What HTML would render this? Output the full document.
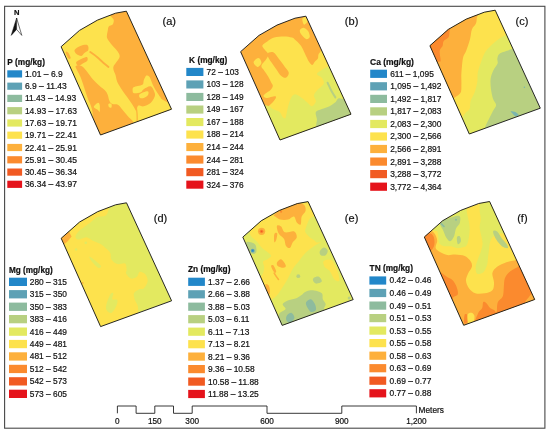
<!DOCTYPE html>
<html lang="en"><head><meta charset="utf-8"><title>Soil nutrient maps</title>
<style>html,body{margin:0;padding:0;background:#fff}svg{display:block}text{font-family:"Liberation Sans",Arial,sans-serif;fill:#111;stroke:#111;stroke-width:0.2px}</style></head><body>
<svg width="550" height="434" viewBox="0 0 550 434">
<rect width="550" height="434" fill="#fff"/>
<defs><clipPath id="cp"><polygon points="61.1,46.7 79.5,30.4 97.5,20.1 115.5,13.2 126.4,11.2 171.5,109.2 100.5,135.0"/></clipPath></defs>
<g transform="translate(0.0,0.0)">
<g clip-path="url(#cp)">
<rect x="55" y="5" width="125" height="135" fill="#FDE24D"/>
<path d="M110.8 13.0C108.1 15.4 113.4 17.8 113.7 19.7C114.0 21.6 113.5 23.5 112.7 24.6C111.9 25.7 109.6 25.5 108.8 26.5C108.0 27.5 108.1 28.6 107.8 30.4C107.5 32.2 106.6 35.3 106.9 37.3C107.2 39.3 108.5 40.4 109.8 42.2C111.1 44.0 113.2 46.3 114.7 48.1C116.2 49.9 117.8 51.4 118.6 52.9C119.4 54.4 119.9 55.4 119.6 56.9C119.3 58.4 117.6 60.2 116.6 61.8C115.6 63.4 114.0 65.0 113.5 66.5C113.0 68.0 113.4 69.2 113.7 70.6C114.0 72.0 114.9 73.1 115.5 75.0C116.1 76.9 116.2 79.5 117.3 82.0C118.4 84.5 120.6 87.7 122.2 90.2C123.8 92.7 125.5 94.8 127.1 97.1C128.7 99.4 130.5 101.6 132.0 103.9C133.5 106.2 134.9 108.5 135.9 110.8C136.9 113.1 137.6 115.4 137.8 117.6C138.1 119.8 135.4 122.9 137.4 124.0C139.4 125.1 142.9 126.0 150.0 124.0C157.1 122.0 175.0 122.7 180.0 112.0C185.0 101.3 188.3 77.8 180.0 60.0C171.7 42.2 141.5 12.8 130.0 5.0C118.5 -2.8 113.5 10.6 110.8 13.0Z" fill="#FDB03C"/>
<path d="M75.5 66.5C75.8 65.7 77.8 65.2 79.0 65.3C80.2 65.4 81.6 65.9 83.0 67.0C84.4 68.1 85.7 70.0 87.3 72.0C88.9 74.0 90.9 77.0 92.8 79.2C94.7 81.4 96.6 83.1 98.9 85.3C101.2 87.5 104.7 89.6 106.5 92.2C108.3 94.8 108.5 99.0 109.5 101.0C110.5 103.0 110.9 103.2 112.4 103.9C113.9 104.6 116.3 103.6 118.3 104.9C120.2 106.2 122.3 109.7 124.1 111.8C125.9 113.9 127.5 116.0 129.0 117.6C130.5 119.2 132.2 120.1 132.9 121.5C133.6 122.9 135.2 123.8 133.0 126.0C130.8 128.2 125.8 132.7 120.0 135.0C114.2 137.3 102.7 144.2 98.0 140.0C93.3 135.8 93.7 116.3 92.0 109.5C90.3 102.7 89.3 102.8 88.0 99.0C86.7 95.2 85.2 90.7 84.0 87.0C82.8 83.3 81.7 79.8 80.5 77.0C79.3 74.2 77.8 71.8 77.0 70.0C76.2 68.2 75.2 67.3 75.5 66.5Z" fill="#FDB03C"/>
<path d="M146.6 75.5C147.3 75.5 148.8 75.9 149.6 76.9C150.4 77.9 150.8 79.8 151.5 81.4C152.2 83.0 152.7 84.7 153.5 86.3C154.3 87.9 155.3 89.4 156.4 91.2C157.5 93.0 159.3 95.7 160.3 97.1C161.3 98.5 160.2 98.1 162.3 99.6C164.4 101.1 171.3 103.9 173.1 105.9C174.9 107.9 179.0 108.9 173.1 111.8C167.2 114.7 143.8 124.3 137.8 123.5C131.9 122.7 136.4 109.8 137.4 106.9C138.4 104.0 141.5 107.0 143.7 106.3C145.9 105.6 148.8 104.4 150.6 102.9C152.4 101.4 153.8 98.9 154.5 97.1C155.2 95.3 155.2 94.0 154.5 92.2C153.8 90.4 152.4 86.8 150.6 86.3C148.8 85.8 145.3 88.2 143.7 89.2C142.1 90.2 142.4 91.5 140.8 92.2C139.2 92.9 135.3 93.5 133.9 93.2C132.5 92.9 132.7 91.2 132.6 90.2C132.5 89.2 132.6 88.0 133.5 87.3C134.4 86.6 136.3 86.4 137.8 85.9C139.3 85.4 141.7 85.3 142.7 84.4C143.7 83.5 143.3 81.7 143.7 80.4C144.1 79.2 144.8 77.7 145.3 76.9C145.8 76.1 145.9 75.5 146.6 75.5Z" fill="#FDE24D"/>
<path d="M139.8 94.1C141.1 93.0 146.2 91.0 147.6 91.2C149.0 91.4 148.7 93.9 148.0 95.1C147.3 96.2 145.1 97.7 143.7 98.1C142.3 98.5 140.5 98.4 139.8 97.7C139.2 97.0 138.5 95.2 139.8 94.1Z" fill="#FDE24D"/>
<path d="M74.6 50.0C75.2 48.7 78.3 46.8 80.4 46.0C82.5 45.2 86.0 44.4 87.3 45.1C88.6 45.8 88.8 48.7 88.3 50.0C87.8 51.3 85.6 52.0 84.4 53.0C83.2 54.0 82.7 55.7 81.4 55.9C80.1 56.1 77.6 55.0 76.5 54.0C75.4 53.0 73.9 51.3 74.6 50.0Z" fill="#FDB03C"/>
<path d="M76.5 61.8C77.8 60.3 84.5 57.1 86.3 56.9C88.1 56.7 87.9 59.7 87.3 60.8C86.7 61.9 83.9 62.9 82.4 63.7C80.9 64.5 79.5 66.0 78.5 65.7C77.5 65.4 75.2 63.3 76.5 61.8Z" fill="#FDB03C"/>
<path d="M65.5 52.0C65.4 51.0 67.1 51.5 68.0 52.5C68.9 53.5 70.6 56.8 70.7 57.8C70.8 58.8 69.4 59.5 68.5 58.5C67.6 57.5 65.6 53.0 65.5 52.0Z" fill="#FDB03C"/>
<path d="M90.2 52.0C91.3 52.8 94.9 55.2 97.0 57.0C99.1 58.8 101.1 60.8 103.0 62.5C104.9 64.2 107.6 66.2 108.5 67.0" fill="none" stroke="#FDB03C" stroke-width="1.8" stroke-linecap="round" stroke-linejoin="round"/>
<path d="M136.3 107.0C136.4 108.0 136.8 110.7 137.0 113.0C137.2 115.3 137.2 119.7 137.2 121.0" fill="none" stroke="#FDB03C" stroke-width="1.2" stroke-linecap="round" stroke-linejoin="round"/>
<path d="M93.8 106.9C93.8 105.8 96.7 103.2 97.7 102.9C98.7 102.6 99.4 103.4 99.7 104.9C100.0 106.4 100.0 111.0 99.7 111.8C99.4 112.6 98.7 110.6 97.7 109.8C96.7 109.0 93.8 108.1 93.8 106.9Z" fill="#FDE24D"/>
<path d="M108.5 103.9C108.9 103.4 110.9 103.3 111.4 103.9C111.9 104.5 111.8 106.9 111.4 107.4C111.0 107.9 109.4 107.5 108.9 106.9C108.4 106.3 108.1 104.4 108.5 103.9Z" fill="#FDE24D"/>
</g>
<polygon points="61.1,46.7 79.5,30.4 97.5,20.1 115.5,13.2 126.4,11.2 171.5,109.2 100.5,135.0" fill="none" stroke="#1c1c1c" stroke-width="0.95" stroke-linejoin="miter"/>
</g>
<g transform="translate(179.5,5.0)">
<g clip-path="url(#cp)">
<rect x="55" y="5" width="125" height="135" fill="#FDB03C"/>
<path d="M82.9 40.4C83.4 39.1 85.8 37.8 87.8 36.5C89.8 35.2 91.8 33.4 94.6 32.6C97.4 31.8 101.5 31.6 104.4 31.6C107.4 31.6 110.5 32.2 112.3 32.6C114.1 33.0 113.5 32.9 115.0 34.2C116.5 35.6 119.8 38.3 121.5 40.7C123.2 43.1 124.2 46.0 125.5 48.7C126.8 51.4 128.3 54.9 129.5 56.8C130.7 58.7 131.9 60.0 132.8 60.0C133.8 60.0 134.3 57.9 135.2 56.8C136.1 55.7 137.6 55.1 138.4 53.6C139.2 52.1 138.1 49.2 140.0 47.9C141.9 46.6 143.3 35.6 150.0 46.0C156.7 56.4 176.3 98.3 180.0 110.0C183.7 121.7 185.3 110.7 172.0 116.0C158.7 121.3 115.3 143.7 100.0 142.0C84.7 140.3 82.5 112.3 80.0 106.0C77.5 99.7 83.8 104.6 85.0 104.0C86.2 103.4 86.1 103.3 87.5 102.2C88.9 101.1 91.8 99.1 93.3 97.3C94.8 95.5 97.3 92.1 96.3 91.4C95.2 90.7 89.0 93.1 87.0 93.0C85.0 92.9 84.2 91.8 84.0 91.0C83.8 90.2 84.8 89.5 86.0 88.5C87.2 87.5 89.8 86.2 91.0 85.0C92.2 83.8 93.2 82.2 93.3 81.0C93.4 79.8 92.5 79.1 91.7 77.6C91.0 76.0 89.9 73.7 88.8 71.7C87.7 69.8 86.1 67.7 84.9 65.9C83.8 64.1 81.6 63.0 81.9 61.0C82.2 59.0 85.7 56.1 86.8 54.1C87.9 52.1 89.1 50.8 88.8 49.2C88.5 47.6 85.9 45.8 84.9 44.3C83.9 42.8 82.4 41.7 82.9 40.4Z" fill="#FDE24D"/>
<path d="M74.1 57.1C74.3 55.6 77.7 53.0 79.0 53.1C80.3 53.2 82.1 56.5 81.9 58.0C81.7 59.5 79.3 62.1 78.0 62.0C76.7 61.9 73.9 58.6 74.1 57.1Z" fill="#FDE24D"/>
<path d="M120.7 24.6C121.4 23.8 123.4 22.6 124.7 22.9C126.0 23.2 127.8 24.7 128.7 26.2C129.6 27.7 130.6 30.5 130.3 31.8C130.0 33.1 128.3 34.3 127.1 34.2C125.9 34.1 124.2 32.1 123.1 31.0C122.0 29.9 121.1 28.9 120.7 27.8C120.3 26.7 120.0 25.4 120.7 24.6Z" fill="#FDE24D"/>
<path d="M123.1 13.3C123.6 12.6 125.5 12.0 126.3 12.5C127.1 13.0 128.2 15.3 127.9 16.5C127.6 17.7 125.5 19.7 124.7 19.7C123.9 19.7 123.4 17.6 123.1 16.5C122.8 15.4 122.6 14.0 123.1 13.3Z" fill="#FDE24D"/>
<path d="M87.8 49.2C88.1 47.6 91.8 46.5 93.7 47.3C95.7 48.1 97.5 51.6 99.5 54.1C101.5 56.6 103.8 59.7 105.4 62.0C107.0 64.3 109.1 66.0 109.3 67.8C109.5 69.6 107.7 72.2 106.4 72.7C105.1 73.2 103.1 72.3 101.5 70.8C99.9 69.3 98.2 66.2 96.6 63.9C95.0 61.6 93.2 59.5 91.7 57.1C90.2 54.7 87.5 50.8 87.8 49.2Z" fill="#FDB03C"/>
<path d="M89.4 101.2C91.0 101.2 91.5 103.1 93.3 104.1C95.1 105.1 98.6 105.8 100.2 107.1C101.8 108.4 102.1 111.0 103.1 112.0C104.1 113.0 105.2 114.2 106.0 112.9C106.8 111.6 107.2 107.2 108.0 104.1C108.8 101.0 109.8 96.8 110.9 94.3C112.1 91.8 113.1 89.7 114.9 89.4C116.7 89.1 119.6 91.1 121.7 92.4C123.8 93.7 125.8 95.8 127.6 97.3C129.4 98.8 131.0 101.4 132.5 101.2C134.0 101.0 136.1 98.1 136.4 96.3C136.7 94.5 134.1 92.4 134.4 90.4C134.7 88.5 136.7 86.5 138.3 84.6C139.9 82.6 143.5 80.7 144.2 78.7C144.9 76.7 143.4 74.4 142.3 72.8C141.2 71.2 137.4 70.2 137.4 68.9C137.4 67.6 140.2 66.3 142.3 65.0C144.4 63.7 147.5 61.9 150.1 61.1C152.7 60.3 153.0 51.9 158.0 60.0C163.0 68.2 177.7 100.7 180.0 110.0C182.3 119.3 185.3 110.7 172.0 116.0C158.7 121.3 114.7 144.0 100.0 142.0C85.3 140.0 85.8 110.8 84.0 104.0C82.2 97.2 87.9 101.2 89.4 101.2Z" fill="#E3E960"/>
<path d="M136.4 107.1C137.2 105.5 140.0 105.1 142.3 104.1C144.6 103.1 147.8 102.3 150.1 101.2C152.4 100.1 154.1 98.6 155.9 97.3C157.7 96.0 157.1 93.0 160.8 93.4C164.5 93.9 175.8 96.6 178.0 100.0C180.2 103.4 180.3 110.0 174.0 114.0C167.7 118.0 146.1 124.0 140.0 124.0C133.9 124.0 138.0 116.7 137.4 113.9C136.8 111.1 135.6 108.7 136.4 107.1Z" fill="#B8D081"/>
<path d="M148.1 77.7C148.8 79.1 150.7 83.5 152.0 86.0C153.3 88.5 155.2 91.3 155.9 92.4" fill="none" stroke="#B8D081" stroke-width="2.0" stroke-linecap="round" stroke-linejoin="round"/>
</g>
<polygon points="61.1,46.7 79.5,30.4 97.5,20.1 115.5,13.2 126.4,11.2 171.5,109.2 100.5,135.0" fill="none" stroke="#1c1c1c" stroke-width="0.95" stroke-linejoin="miter"/>
</g>
<g transform="translate(368.8,-1.0)">
<g clip-path="url(#cp)">
<rect x="55" y="5" width="125" height="135" fill="#B8D081"/>
<path d="M150.0 44.0C150.9 51.3 147.3 47.7 145.2 49.0C143.1 50.3 139.8 51.0 137.4 52.0C135.0 53.0 132.0 53.6 130.5 54.9C129.0 56.2 128.8 58.2 128.5 59.8C128.2 61.4 129.5 62.5 128.8 64.5C128.1 66.5 125.7 68.9 124.5 71.5C123.3 74.1 122.2 76.9 121.8 80.0C121.4 83.1 121.8 86.9 122.2 90.2C122.6 93.5 123.5 97.4 124.3 100.0C125.1 102.6 127.3 103.9 127.3 105.9C127.3 107.9 125.4 109.5 124.3 111.8C123.2 114.1 121.7 116.9 120.4 119.6C119.1 122.3 117.3 125.2 116.5 127.8C115.7 130.4 119.1 132.1 115.5 135.0C111.9 137.9 106.8 159.2 95.0 145.0C83.2 130.8 40.8 75.0 45.0 50.0C49.2 25.0 104.2 2.5 120.0 -5.0C135.8 -12.5 135.0 -3.2 140.0 5.0C145.0 13.2 149.1 36.7 150.0 44.0Z" fill="#E3E960"/>
<path d="M142.0 33.0C142.2 38.2 138.5 35.1 136.4 36.3C134.3 37.5 132.0 38.4 129.6 40.2C127.1 42.0 124.0 44.8 121.7 47.1C119.4 49.4 117.5 51.1 115.9 53.9C114.3 56.7 113.2 60.4 112.0 63.7C110.8 67.0 109.6 70.3 109.0 73.5C108.4 76.7 109.0 79.8 108.5 83.0C108.0 86.2 107.1 89.8 106.0 93.0C104.9 96.2 102.6 99.2 101.8 102.0C101.0 104.8 101.7 107.8 100.9 109.8C100.1 111.8 98.1 112.5 96.9 113.7C95.8 114.9 95.3 116.2 94.0 117.2C92.7 118.2 97.2 131.2 89.0 120.0C80.8 108.8 39.8 70.8 45.0 50.0C50.2 29.2 105.0 2.5 120.0 -5.0C135.0 -12.5 131.3 -1.3 135.0 5.0C138.7 11.3 141.8 27.8 142.0 33.0Z" fill="#FDE24D"/>
<path d="M108.8 10.0C113.5 11.4 108.3 16.3 108.0 18.7C107.7 21.1 107.9 22.7 107.1 24.6C106.3 26.6 104.1 27.8 103.1 30.4C102.1 33.0 102.2 36.6 101.2 40.2C100.2 43.8 98.4 49.1 97.3 52.0C96.2 54.9 95.2 55.3 94.5 57.8C93.8 60.3 93.5 64.0 93.2 67.0C92.9 70.0 92.6 73.0 92.5 76.0C92.4 79.0 92.7 82.1 92.6 85.0C92.5 87.9 92.8 91.2 92.0 93.2C91.2 95.2 89.2 96.1 88.1 97.1C87.0 98.1 86.5 98.3 85.2 99.0C83.9 99.7 86.7 109.2 80.0 101.0C73.3 92.8 45.0 65.2 45.0 50.0C45.0 34.8 69.4 16.7 80.0 10.0C90.6 3.3 104.1 8.6 108.8 10.0Z" fill="#FDB03C"/>
<path d="M84.0 24.0C85.9 24.7 82.1 27.4 81.5 29.0C80.9 30.6 80.9 31.8 80.6 33.4C80.3 34.9 80.7 36.8 79.7 38.3C78.7 39.8 75.8 40.7 74.8 42.2C73.8 43.7 74.4 45.5 73.8 47.1C73.2 48.7 71.2 49.5 70.9 52.0C70.6 54.5 72.1 60.0 71.8 61.8C71.5 63.6 70.6 62.2 69.3 62.7C68.0 63.2 67.2 68.0 64.0 65.0C60.8 62.0 49.0 51.7 50.0 45.0C51.0 38.3 64.3 28.5 70.0 25.0C75.7 21.5 82.1 23.3 84.0 24.0Z" fill="#FB8A2E"/>
<path d="M141.9 112.3C142.2 112.0 144.6 112.1 145.9 112.7C147.2 113.3 149.7 115.0 149.8 115.7C150.0 116.5 147.8 117.4 146.8 117.2C145.8 117.0 144.7 115.5 143.9 114.7C143.1 113.9 141.6 112.6 141.9 112.3Z" fill="#7BB5AE"/>
<circle cx="155.6" cy="88.3" r="0.7" fill="#7BB5AE"/>
</g>
<polygon points="61.1,46.7 79.5,30.4 97.5,20.1 115.5,13.2 126.4,11.2 171.5,109.2 100.5,135.0" fill="none" stroke="#1c1c1c" stroke-width="0.95" stroke-linejoin="miter"/>
</g>
<g transform="translate(0.1,191.6)">
<g clip-path="url(#cp)">
<rect x="55" y="5" width="125" height="135" fill="#E3E960"/>
<path d="M108.0 14.0C109.3 16.1 108.2 18.7 107.7 20.4C107.2 22.1 106.6 23.5 104.8 24.3C103.0 25.1 99.5 24.2 97.0 25.3C94.5 26.4 92.2 29.5 90.1 31.1C88.0 32.7 86.2 33.6 84.3 35.1C82.3 36.6 79.9 38.3 78.4 39.9C76.9 41.5 75.6 43.5 75.4 44.8C75.2 46.1 76.2 47.5 77.4 47.8C78.6 48.1 80.7 47.1 82.3 46.8C83.9 46.5 85.2 45.3 87.2 45.8C89.2 46.3 91.7 48.6 94.0 49.7C96.3 50.9 98.9 51.5 100.9 52.7C102.9 53.9 104.4 55.5 106.0 57.0C107.6 58.5 109.4 59.8 110.3 61.6C111.2 63.4 110.1 66.2 111.3 68.0C112.5 69.8 114.9 71.8 117.2 72.5C119.5 73.2 123.5 71.1 125.0 72.0C126.5 72.9 126.3 76.3 126.5 78.0C126.7 79.7 125.3 80.5 126.0 82.0C126.7 83.5 129.1 86.5 130.9 87.0C132.7 87.5 135.3 86.2 136.8 85.1C138.3 84.0 138.2 80.5 139.7 80.2C141.2 79.9 144.3 81.5 145.6 83.1C146.9 84.7 147.8 87.6 147.5 89.9C147.2 92.2 145.1 95.5 143.6 96.8C142.1 98.1 140.3 97.0 138.7 97.8C137.1 98.6 134.5 99.9 133.8 101.7C133.2 103.5 134.2 106.4 134.8 108.5C135.5 110.6 137.1 112.3 137.7 114.4C138.2 116.5 138.0 119.0 138.1 121.3C138.2 123.6 144.7 124.0 138.0 128.0C131.3 131.9 113.5 158.3 98.0 145.0C82.5 131.7 49.7 68.5 45.0 48.0C40.3 27.5 60.8 28.7 70.0 22.0C79.2 15.3 93.7 9.3 100.0 8.0C106.3 6.7 106.7 11.9 108.0 14.0Z" fill="#FDE24D"/>
<path d="M89.1 65.4C89.3 64.9 91.1 65.8 93.1 67.3C95.1 68.8 100.1 72.7 100.9 74.2C101.7 75.7 99.5 76.8 98.0 76.1C96.5 75.4 93.6 72.1 92.1 70.3C90.6 68.5 88.9 65.9 89.1 65.4Z" fill="#E3E960"/>
<circle cx="76.0" cy="58.0" r="1.3" fill="#E3E960"/>
<circle cx="85.7" cy="51.2" r="1.4" fill="#E3E960"/>
<path d="M106.4 112.5C107.1 109.9 109.2 104.5 110.3 102.7C111.4 100.9 113.0 100.9 113.3 101.7C113.6 102.5 111.6 106.5 112.3 107.6C113.0 108.7 116.5 107.4 117.2 108.5C117.9 109.6 117.2 112.3 116.2 114.4C115.2 116.5 112.9 120.7 111.3 121.3C109.7 121.9 107.2 119.8 106.4 118.3C105.6 116.8 105.8 115.1 106.4 112.5Z" fill="#E3E960"/>
<path d="M58.0 47.0L68.6 39.5L71.5 44.8L67.6 49.7L64.0 53.0Z" fill="#FDB03C"/>
<circle cx="82.6" cy="91.3" r="0.9" fill="#FDB03C"/>
</g>
<polygon points="61.1,46.7 79.5,30.4 97.5,20.1 115.5,13.2 126.4,11.2 171.5,109.2 100.5,135.0" fill="none" stroke="#1c1c1c" stroke-width="0.95" stroke-linejoin="miter"/>
</g>
<g transform="translate(181.7,190.4)">
<g clip-path="url(#cp)">
<rect x="55" y="5" width="125" height="135" fill="#E3E960"/>
<path d="M69.0 36.0C68.0 39.3 67.6 42.0 68.7 44.6C69.8 47.2 73.7 49.4 75.6 51.5C77.5 53.6 78.5 55.6 80.2 57.3C81.9 59.0 84.5 60.5 86.0 61.9C87.5 63.2 89.5 64.2 89.5 65.4C89.5 66.6 87.3 67.8 86.0 68.8C84.7 69.8 82.0 69.8 81.4 71.2C80.8 72.6 82.5 75.0 82.5 76.9C82.5 78.8 82.0 81.2 81.4 82.7C80.8 84.2 80.3 85.3 79.1 86.2C77.9 87.1 73.0 83.5 74.0 88.0C75.0 92.5 82.4 109.5 85.0 113.0C87.6 116.5 87.7 110.6 89.5 109.2C91.3 107.8 93.6 106.8 95.7 104.5C97.8 102.2 100.2 98.0 102.0 95.2C103.8 92.4 105.0 90.2 106.6 87.4C108.1 84.6 109.5 80.9 111.3 78.1C113.1 75.2 115.4 72.9 117.5 70.3C119.6 67.7 121.4 64.8 123.7 62.5C126.0 60.2 128.9 58.1 131.5 56.3C134.1 54.5 138.7 52.4 139.3 51.7C139.9 51.0 136.0 52.3 134.9 52.0C133.8 51.7 133.7 50.7 132.5 49.8C131.3 48.9 129.2 47.9 127.7 46.5C126.2 45.1 124.1 43.3 123.6 41.7C123.0 40.1 123.7 39.0 124.4 36.9C125.1 34.8 126.1 31.1 127.7 28.8C129.3 26.5 133.4 26.1 134.0 23.0C134.6 19.9 132.2 12.8 131.0 10.0C129.8 7.2 132.2 6.3 127.0 6.0C121.8 5.7 108.7 4.8 100.0 8.0C91.3 11.2 80.2 20.3 75.0 25.0C69.8 29.7 70.0 32.7 69.0 36.0Z" fill="#FDE24D"/>
<path d="M142.0 70.7C143.2 69.6 147.6 68.1 149.9 69.7C152.2 71.3 154.4 77.0 155.7 80.4C157.0 83.8 158.2 88.7 157.7 90.2C157.2 91.7 154.4 90.8 152.8 89.2C151.2 87.6 149.5 82.5 147.9 80.4C146.3 78.3 144.0 78.1 143.0 76.5C142.0 74.9 140.8 71.8 142.0 70.7Z" fill="#FDE24D"/>
<path d="M92.6 24.3C93.7 22.9 97.1 19.9 100.4 18.0C103.7 16.1 108.6 13.7 112.2 13.0C115.8 12.3 120.0 12.8 121.9 14.0C123.9 15.2 124.2 18.4 123.9 20.4C123.6 22.4 120.8 23.9 120.0 26.2C119.2 28.5 119.8 33.1 119.0 34.1C118.2 35.1 116.2 33.4 115.1 32.1C114.0 30.8 113.7 26.7 112.2 26.2C110.7 25.7 108.6 28.7 106.3 29.2C104.0 29.7 100.6 29.7 98.5 29.2C96.4 28.7 94.6 27.0 93.6 26.2C92.6 25.4 91.5 25.7 92.6 24.3Z" fill="#FDB03C"/>
<circle cx="99.4" cy="21.3" r="1.1" fill="#FB8A2E"/>
<path d="M95.5 35.0C96.2 34.5 98.1 34.9 99.4 36.0C100.7 37.1 101.2 41.1 103.3 41.9C105.4 42.7 110.2 40.1 112.2 40.9C114.2 41.7 115.3 45.0 115.1 46.8C114.9 48.6 112.3 49.9 111.2 51.7C110.1 53.5 109.4 56.9 108.2 57.5C107.0 58.1 105.3 57.1 104.3 55.6C103.3 54.1 103.5 50.7 102.4 48.7C101.3 46.7 98.7 45.4 97.5 43.8C96.3 42.2 95.8 40.4 95.5 38.9C95.2 37.4 94.8 35.5 95.5 35.0Z" fill="#FDB03C"/>
<path d="M92.6 43.8C93.1 42.3 95.2 41.9 95.5 42.9C95.8 43.9 95.0 48.2 94.5 49.7C94.0 51.2 92.9 52.7 92.6 51.7C92.3 50.7 92.1 45.3 92.6 43.8Z" fill="#FDB03C"/>
<circle cx="79.9" cy="40.9" r="3.6" fill="#FDB03C"/>
<circle cx="79.9" cy="40.9" r="1.9" fill="#FB8A2E"/>
<circle cx="79.9" cy="40.9" r="0.9" fill="#F15A22"/>
<path d="M95.3 72.0C95.9 70.9 98.2 68.5 99.7 69.0C101.2 69.5 103.8 73.6 104.1 75.0C104.4 76.4 103.0 77.2 101.7 77.3C100.4 77.4 97.4 76.7 96.3 75.8C95.2 74.9 94.7 73.1 95.3 72.0Z" fill="#FDB03C"/>
<path d="M89.4 75.8C89.3 74.6 91.0 74.1 91.8 75.0C92.6 75.9 94.4 79.8 94.5 81.0C94.6 82.2 93.4 82.9 92.6 82.0C91.8 81.1 89.5 77.0 89.4 75.8Z" fill="#FDB03C"/>
<path d="M92.5 82.8C92.8 83.3 93.8 85.0 94.5 86.0C95.2 87.0 96.4 88.5 96.8 89.0" fill="none" stroke="#FDB03C" stroke-width="1.6" stroke-linecap="round" stroke-linejoin="round"/>
<path d="M83.7 94.2C83.9 92.9 86.3 94.1 87.1 95.4C87.9 96.8 88.5 101.0 88.3 102.3C88.1 103.6 86.8 104.8 86.0 103.5C85.2 102.2 83.5 95.5 83.7 94.2Z" fill="#FDB03C"/>
<path d="M65.2 51.5C66.5 50.9 71.8 52.1 73.3 53.8C74.8 55.5 75.1 60.3 74.5 61.9C73.9 63.5 71.3 63.9 69.8 63.1C68.2 62.3 66.0 59.2 65.2 57.3C64.4 55.4 63.9 52.1 65.2 51.5Z" fill="#B8D081"/>
<circle cx="71.0" cy="60.3" r="1.9" fill="#5DA1B5"/>
<circle cx="71.0" cy="60.3" r="0.9" fill="#2287C9"/>
<path d="M138.1 60.9C138.6 59.6 140.7 57.2 142.0 57.0C143.3 56.8 145.7 58.6 146.0 59.9C146.3 61.2 145.2 64.0 144.0 64.8C142.8 65.6 140.1 65.5 139.1 64.8C138.1 64.1 137.6 62.2 138.1 60.9Z" fill="#B8D081"/>
<circle cx="116.6" cy="85.8" r="1.9" fill="#B8D081"/>
<path d="M132.3 87.3C133.3 86.6 135.9 85.6 137.2 86.3C138.5 87.0 140.6 90.0 140.1 91.2C139.6 92.4 135.7 93.4 134.2 93.2C132.7 93.0 131.6 91.2 131.3 90.2C131.0 89.2 131.3 88.0 132.3 87.3Z" fill="#B8D081"/>
<path d="M101.0 113.7C101.5 112.2 104.5 110.8 106.8 109.8C109.1 108.8 112.6 108.6 114.7 107.8C116.8 107.0 117.9 106.0 119.5 104.9C121.1 103.8 122.3 101.8 124.4 101.0C126.5 100.2 129.7 99.7 132.3 100.0C134.9 100.3 138.6 101.4 140.1 102.9C141.6 104.4 140.4 107.0 141.1 108.8C141.8 110.6 143.8 112.1 144.0 113.7C144.2 115.3 142.4 116.7 142.1 118.6C141.8 120.5 149.0 121.1 142.0 125.0C135.0 128.9 108.3 142.2 100.0 142.0C91.7 141.8 92.7 126.6 92.0 124.0C91.3 121.4 95.1 126.7 96.1 126.4C97.1 126.2 96.7 123.8 98.0 122.5C99.3 121.2 103.4 120.1 103.9 118.6C104.4 117.1 100.5 115.2 101.0 113.7Z" fill="#B8D081"/>
<path d="M124.4 111.8C125.1 110.5 127.8 108.5 129.3 108.8C130.8 109.1 132.4 111.9 133.2 113.7C134.0 115.5 134.8 118.3 134.2 119.6C133.5 120.9 130.8 122.0 129.3 121.5C127.8 121.0 126.2 118.2 125.4 116.6C124.6 115.0 123.8 113.1 124.4 111.8Z" fill="#8DBB9E"/>
<path d="M104.9 125.5C105.7 124.2 108.5 122.2 109.8 122.5C111.1 122.8 112.9 125.8 112.7 127.4C112.5 129.0 110.1 131.8 108.8 132.3C107.5 132.8 105.6 131.5 104.9 130.4C104.2 129.3 104.1 126.8 104.9 125.5Z" fill="#8DBB9E"/>
<circle cx="167.5" cy="107.5" r="1.5" fill="#B8D081"/>
</g>
<polygon points="61.1,46.7 79.5,30.4 97.5,20.1 115.5,13.2 126.4,11.2 171.5,109.2 100.5,135.0" fill="none" stroke="#1c1c1c" stroke-width="0.95" stroke-linejoin="miter"/>
</g>
<g transform="translate(363.2,190.3)">
<g clip-path="url(#cp)">
<rect x="55" y="5" width="125" height="135" fill="#FDE24D"/>
<path d="M64.0 36.0C65.5 33.3 74.3 28.0 80.0 24.0C85.7 20.0 94.0 14.2 98.0 12.0C102.0 9.8 103.1 9.6 104.0 11.0C104.9 12.4 103.2 17.5 103.5 20.7C103.8 23.9 105.0 27.5 105.5 30.4C106.0 33.3 106.5 35.3 106.5 38.3C106.5 41.2 106.0 45.3 105.5 48.1C105.0 50.9 104.5 53.4 103.5 54.9C102.5 56.4 101.2 56.4 99.6 56.9C98.0 57.4 95.7 58.0 93.7 57.8C91.8 57.6 90.0 56.2 87.9 55.9C85.8 55.6 83.0 56.4 81.0 55.9C79.0 55.4 77.1 54.4 76.1 52.9C75.1 51.4 75.4 49.0 75.1 47.1C74.8 45.2 74.8 42.4 74.2 41.2C73.6 40.1 72.9 41.1 71.2 40.2C69.5 39.3 62.5 38.7 64.0 36.0Z" fill="#E3E960"/>
<path d="M116.0 8.0C113.8 9.6 116.4 12.4 116.5 14.6C116.6 16.8 116.3 18.8 116.5 21.1C116.7 23.4 117.5 25.6 117.5 28.4C117.5 31.1 116.3 34.5 116.5 37.6C116.7 40.7 117.9 44.1 118.4 46.9C118.9 49.7 119.5 51.8 119.3 54.2C119.1 56.7 118.3 59.1 117.5 61.6C116.7 64.1 115.5 66.4 114.7 69.0C113.9 71.6 112.5 74.6 112.4 77.0C112.3 79.4 112.7 82.7 114.0 83.5C115.3 84.3 118.5 83.4 120.2 81.9C121.9 80.4 123.1 77.0 123.9 74.5C124.7 72.0 124.5 69.5 124.8 67.1C125.1 64.6 125.5 62.2 125.8 59.8C126.1 57.3 126.1 54.5 126.7 52.4C127.3 50.2 127.7 48.4 129.4 46.9C131.1 45.4 134.7 44.0 136.8 43.2C138.9 42.4 141.5 45.0 142.0 42.0C142.5 39.0 142.0 31.2 140.0 25.0C138.0 18.8 134.0 7.8 130.0 5.0C126.0 2.2 118.2 6.4 116.0 8.0Z" fill="#E3E960"/>
<path d="M76.0 31.0C76.7 29.1 80.7 29.4 84.0 28.5C87.3 27.6 93.6 24.9 95.7 25.5C97.8 26.1 97.2 30.3 96.7 32.4C96.2 34.5 93.8 36.0 92.8 38.3C91.8 40.6 91.8 44.0 90.8 46.1C89.8 48.2 88.2 50.8 86.9 51.0C85.6 51.2 84.2 48.9 83.0 47.1C81.8 45.3 81.2 42.9 80.0 40.2C78.8 37.5 75.3 33.0 76.0 31.0Z" fill="#B8D081"/>
<path d="M78.3 33.6C78.7 34.0 80.4 35.8 80.8 36.2" fill="none" stroke="#8DBB9E" stroke-width="1.6" stroke-linecap="round" stroke-linejoin="round"/>
<circle cx="92.8" cy="29.5" r="1.0" fill="#8DBB9E"/>
<path d="M93.7 47.1C94.0 45.8 96.0 45.5 96.7 46.1C97.4 46.8 98.0 49.7 97.7 51.0C97.4 52.3 95.4 54.5 94.7 53.9C94.0 53.2 93.4 48.4 93.7 47.1Z" fill="#B8D081"/>
<path d="M129.9 41.2C130.1 39.9 132.4 40.1 133.9 41.2C135.4 42.4 137.1 46.0 138.7 48.1C140.3 50.2 142.6 52.3 143.6 53.9C144.6 55.5 145.4 57.5 144.6 57.8C143.8 58.1 140.6 57.4 138.7 55.9C136.8 54.4 134.4 51.5 132.9 49.0C131.4 46.5 129.7 42.5 129.9 41.2Z" fill="#B8D081"/>
<path d="M58.0 46.0C60.7 44.7 63.8 40.4 66.0 40.0C68.2 39.6 70.2 41.8 71.5 43.5C72.8 45.2 73.8 48.0 74.0 50.5C74.2 53.0 71.3 56.2 72.8 58.5C74.3 60.8 79.8 63.5 83.0 64.5C86.2 65.5 88.9 64.0 92.0 64.2C95.1 64.4 99.0 64.6 101.6 65.7C104.2 66.8 106.2 69.2 107.4 71.0C108.6 72.8 109.1 74.5 108.7 76.5C108.3 78.5 106.0 80.7 105.0 83.0C104.0 85.3 102.6 88.0 102.8 90.5C103.0 93.0 104.4 96.2 105.9 98.3C107.5 100.4 109.5 102.2 112.1 103.0C114.7 103.8 118.7 103.5 121.5 103.0C124.3 102.5 127.6 101.7 129.2 99.9C130.8 98.1 130.8 94.9 130.8 92.1C130.8 89.2 128.7 85.4 129.2 82.8C129.7 80.2 131.6 78.3 133.9 76.5C136.2 74.7 140.3 72.9 143.2 71.9C146.0 70.9 148.2 70.6 151.0 70.3C153.8 70.0 155.2 63.0 160.0 70.0C164.8 77.0 190.0 99.5 180.0 112.0C170.0 124.5 121.7 155.7 100.0 145.0C78.3 134.3 57.0 64.5 50.0 48.0C43.0 31.5 55.3 47.3 58.0 46.0Z" fill="#FDB03C"/>
<path d="M162.0 75.0C157.6 68.9 156.1 76.3 153.3 77.5C150.6 78.7 147.4 80.6 145.5 82.4C143.6 84.2 142.4 85.8 141.6 88.3C140.8 90.8 140.9 94.2 140.6 97.1C140.3 100.0 140.6 103.5 139.6 105.9C138.6 108.4 135.7 109.4 134.7 111.8C133.7 114.2 133.8 117.8 133.7 120.5C133.6 123.2 126.3 129.1 134.0 128.0C141.7 126.9 175.3 122.8 180.0 114.0C184.7 105.2 166.4 81.1 162.0 75.0Z" fill="#FB8A2E"/>
<path d="M162.2 113.0C160.4 112.0 164.3 108.8 165.4 107.3C166.5 105.8 166.9 104.7 168.7 104.0C170.5 103.3 174.8 101.5 176.0 103.0C177.2 104.5 178.3 111.3 176.0 113.0C173.7 114.7 164.0 114.0 162.2 113.0Z" fill="#FDB03C"/>
<path d="M76.0 83.0C75.8 79.4 82.5 86.1 84.8 87.3C87.1 88.5 88.2 88.6 89.7 90.2C91.2 91.8 92.8 94.8 93.6 97.1C94.4 99.4 95.1 102.3 94.6 103.9C94.1 105.5 92.1 105.7 90.7 106.5C89.3 107.3 88.5 112.9 86.0 109.0C83.5 105.1 76.2 86.6 76.0 83.0Z" fill="#FB8A2E"/>
<path d="M115.1 122.5C116.1 119.9 118.2 119.4 119.0 117.6C119.8 115.8 119.3 112.6 120.0 111.8C120.7 111.0 121.8 111.7 123.0 112.7C124.2 113.7 125.4 116.3 126.9 117.6C128.4 118.9 131.0 119.0 131.8 120.6C132.7 122.2 135.1 124.9 132.0 127.0C128.9 129.1 115.8 133.8 113.0 133.0C110.2 132.2 114.1 125.1 115.1 122.5Z" fill="#FB8A2E"/>
<path d="M57.0 47.0C57.5 44.0 63.8 43.1 66.0 43.0C68.2 42.9 69.4 44.3 70.3 46.1C71.2 47.9 71.5 51.6 71.2 53.9C70.9 56.2 69.7 58.6 68.3 59.8C66.9 61.0 64.9 63.1 63.0 61.0C61.1 58.9 56.5 50.0 57.0 47.0Z" fill="#FB8A2E"/>
<path d="M101.4 124.5C101.9 123.2 103.7 123.8 104.2 125.0C104.7 126.2 104.9 130.2 104.4 131.5C103.9 132.8 101.5 134.2 101.0 133.0C100.5 131.8 100.9 125.8 101.4 124.5Z" fill="#FB8A2E"/>
<path d="M104.4 124.5C104.9 122.7 107.2 122.3 108.3 122.5C109.4 122.7 110.9 124.0 111.2 125.5C111.5 127.0 111.2 130.2 110.2 131.5C109.2 132.8 106.3 134.7 105.3 133.5C104.3 132.3 103.9 126.3 104.4 124.5Z" fill="#FDE24D"/>
</g>
<polygon points="61.1,46.7 79.5,30.4 97.5,20.1 115.5,13.2 126.4,11.2 171.5,109.2 100.5,135.0" fill="none" stroke="#1c1c1c" stroke-width="0.95" stroke-linejoin="miter"/>
</g>
<text x="7.3" y="64.8" font-size="8.3" font-weight="bold">P (mg/kg)</text>
<rect x="7.3" y="70.3" width="14.8" height="7.2" fill="#2287C9"/>
<text x="24.9" y="76.89" font-size="8.50">1.01 – 6.9</text>
<rect x="7.3" y="82.6" width="14.8" height="7.2" fill="#5DA1B5"/>
<text x="24.9" y="89.16" font-size="8.50">6.9 – 11.43</text>
<rect x="7.3" y="94.8" width="14.8" height="7.2" fill="#8DBB9E"/>
<text x="24.9" y="101.43" font-size="8.50">11.43 – 14.93</text>
<rect x="7.3" y="107.1" width="14.8" height="7.2" fill="#B8D081"/>
<text x="24.9" y="113.70" font-size="8.50">14.93 – 17.63</text>
<rect x="7.3" y="119.4" width="14.8" height="7.2" fill="#E3E960"/>
<text x="24.9" y="125.97" font-size="8.50">17.63 – 19.71</text>
<rect x="7.3" y="131.6" width="14.8" height="7.2" fill="#FDE24D"/>
<text x="24.9" y="138.24" font-size="8.50">19.71 – 22.41</text>
<rect x="7.3" y="143.9" width="14.8" height="7.2" fill="#FDB03C"/>
<text x="24.9" y="150.51" font-size="8.50">22.41 – 25.91</text>
<rect x="7.3" y="156.2" width="14.8" height="7.2" fill="#FB8A2E"/>
<text x="24.9" y="162.78" font-size="8.50">25.91 – 30.45</text>
<rect x="7.3" y="168.5" width="14.8" height="7.2" fill="#F15A22"/>
<text x="24.9" y="175.05" font-size="8.50">30.45 – 36.34</text>
<rect x="7.3" y="180.7" width="14.8" height="7.2" fill="#E5131B"/>
<text x="24.9" y="187.32" font-size="8.50">36.34 – 43.97</text>
<text x="189.1" y="62.6" font-size="8.3" font-weight="bold">K (mg/kg)</text>
<rect x="186.3" y="67.9" width="17.1" height="8.1" fill="#2287C9"/>
<text x="206.6" y="74.87" font-size="8.30">72 – 103</text>
<rect x="186.3" y="80.4" width="17.1" height="8.1" fill="#5DA1B5"/>
<text x="206.6" y="87.39" font-size="8.30">103 – 128</text>
<rect x="186.3" y="92.9" width="17.1" height="8.1" fill="#8DBB9E"/>
<text x="206.6" y="99.91" font-size="8.30">128 – 149</text>
<rect x="186.3" y="105.5" width="17.1" height="8.1" fill="#B8D081"/>
<text x="206.6" y="112.43" font-size="8.30">149 – 167</text>
<rect x="186.3" y="118.0" width="17.1" height="8.1" fill="#E3E960"/>
<text x="206.6" y="124.95" font-size="8.30">167 – 188</text>
<rect x="186.3" y="130.5" width="17.1" height="8.1" fill="#FDE24D"/>
<text x="206.6" y="137.47" font-size="8.30">188 – 214</text>
<rect x="186.3" y="143.0" width="17.1" height="8.1" fill="#FDB03C"/>
<text x="206.6" y="149.99" font-size="8.30">214 – 244</text>
<rect x="186.3" y="155.5" width="17.1" height="8.1" fill="#FB8A2E"/>
<text x="206.6" y="162.51" font-size="8.30">244 – 281</text>
<rect x="186.3" y="168.1" width="17.1" height="8.1" fill="#F15A22"/>
<text x="206.6" y="175.03" font-size="8.30">281 – 324</text>
<rect x="186.3" y="180.6" width="17.1" height="8.1" fill="#E5131B"/>
<text x="206.6" y="187.55" font-size="8.30">324 – 376</text>
<text x="370.0" y="64.5" font-size="8.5" font-weight="bold">Ca (mg/kg)</text>
<rect x="370.2" y="69.7" width="16.8" height="8.2" fill="#2287C9"/>
<text x="390.2" y="76.76" font-size="8.40">611 – 1,095</text>
<rect x="370.2" y="82.2" width="16.8" height="8.2" fill="#5DA1B5"/>
<text x="390.2" y="89.30" font-size="8.40">1,095 – 1,492</text>
<rect x="370.2" y="94.8" width="16.8" height="8.2" fill="#8DBB9E"/>
<text x="390.2" y="101.84" font-size="8.40">1,492 – 1,817</text>
<rect x="370.2" y="107.3" width="16.8" height="8.2" fill="#B8D081"/>
<text x="390.2" y="114.38" font-size="8.40">1,817 – 2,083</text>
<rect x="370.2" y="119.9" width="16.8" height="8.2" fill="#E3E960"/>
<text x="390.2" y="126.92" font-size="8.40">2,083 – 2,300</text>
<rect x="370.2" y="132.4" width="16.8" height="8.2" fill="#FDE24D"/>
<text x="390.2" y="139.46" font-size="8.40">2,300 – 2,566</text>
<rect x="370.2" y="144.9" width="16.8" height="8.2" fill="#FDB03C"/>
<text x="390.2" y="152.00" font-size="8.40">2,566 – 2,891</text>
<rect x="370.2" y="157.5" width="16.8" height="8.2" fill="#FB8A2E"/>
<text x="390.2" y="164.54" font-size="8.40">2,891 – 3,288</text>
<rect x="370.2" y="170.0" width="16.8" height="8.2" fill="#F15A22"/>
<text x="390.2" y="177.08" font-size="8.40">3,288 – 3,772</text>
<rect x="370.2" y="182.6" width="16.8" height="8.2" fill="#E5131B"/>
<text x="390.2" y="189.62" font-size="8.40">3,772 – 4,364</text>
<text x="9.0" y="272.8" font-size="8.2" font-weight="bold">Mg (mg/kg)</text>
<rect x="9.0" y="277.7" width="18.0" height="8.3" fill="#2287C9"/>
<text x="29.8" y="284.79" font-size="8.35">280 – 315</text>
<rect x="9.0" y="290.1" width="18.0" height="8.3" fill="#5DA1B5"/>
<text x="29.8" y="297.23" font-size="8.35">315 – 350</text>
<rect x="9.0" y="302.6" width="18.0" height="8.3" fill="#8DBB9E"/>
<text x="29.8" y="309.67" font-size="8.35">350 – 383</text>
<rect x="9.0" y="315.0" width="18.0" height="8.3" fill="#B8D081"/>
<text x="29.8" y="322.11" font-size="8.35">383 – 416</text>
<rect x="9.0" y="327.5" width="18.0" height="8.3" fill="#E3E960"/>
<text x="29.8" y="334.55" font-size="8.35">416 – 449</text>
<rect x="9.0" y="339.9" width="18.0" height="8.3" fill="#FDE24D"/>
<text x="29.8" y="346.99" font-size="8.35">449 – 481</text>
<rect x="9.0" y="352.3" width="18.0" height="8.3" fill="#FDB03C"/>
<text x="29.8" y="359.43" font-size="8.35">481 – 512</text>
<rect x="9.0" y="364.8" width="18.0" height="8.3" fill="#FB8A2E"/>
<text x="29.8" y="371.87" font-size="8.35">512 – 542</text>
<rect x="9.0" y="377.2" width="18.0" height="8.3" fill="#F15A22"/>
<text x="29.8" y="384.31" font-size="8.35">542 – 573</text>
<rect x="9.0" y="389.7" width="18.0" height="8.3" fill="#E5131B"/>
<text x="29.8" y="396.75" font-size="8.35">573 – 605</text>
<text x="188.0" y="272.3" font-size="8.3" font-weight="bold">Zn (mg/kg)</text>
<rect x="188.2" y="277.7" width="16.7" height="8.2" fill="#2287C9"/>
<text x="208.1" y="284.76" font-size="8.40">1.37 – 2.66</text>
<rect x="188.2" y="290.2" width="16.7" height="8.2" fill="#5DA1B5"/>
<text x="208.1" y="297.23" font-size="8.40">2.66 – 3.88</text>
<rect x="188.2" y="302.6" width="16.7" height="8.2" fill="#8DBB9E"/>
<text x="208.1" y="309.70" font-size="8.40">3.88 – 5.03</text>
<rect x="188.2" y="315.1" width="16.7" height="8.2" fill="#B8D081"/>
<text x="208.1" y="322.17" font-size="8.40">5.03 – 6.11</text>
<rect x="188.2" y="327.6" width="16.7" height="8.2" fill="#E3E960"/>
<text x="208.1" y="334.64" font-size="8.40">6.11 – 7.13</text>
<rect x="188.2" y="340.1" width="16.7" height="8.2" fill="#FDE24D"/>
<text x="208.1" y="347.11" font-size="8.40">7.13 – 8.21</text>
<rect x="188.2" y="352.5" width="16.7" height="8.2" fill="#FDB03C"/>
<text x="208.1" y="359.58" font-size="8.40">8.21 – 9.36</text>
<rect x="188.2" y="365.0" width="16.7" height="8.2" fill="#FB8A2E"/>
<text x="208.1" y="372.05" font-size="8.40">9.36 – 10.58</text>
<rect x="188.2" y="377.5" width="16.7" height="8.2" fill="#F15A22"/>
<text x="208.1" y="384.52" font-size="8.40">10.58 – 11.88</text>
<rect x="188.2" y="389.9" width="16.7" height="8.2" fill="#E5131B"/>
<text x="208.1" y="396.99" font-size="8.40">11.88 – 13.25</text>
<text x="369.6" y="271.1" font-size="8.3" font-weight="bold">TN (mg/kg)</text>
<rect x="369.4" y="276.4" width="16.8" height="8.2" fill="#2287C9"/>
<text x="389.5" y="283.46" font-size="8.40">0.42 – 0.46</text>
<rect x="369.4" y="288.9" width="16.8" height="8.2" fill="#5DA1B5"/>
<text x="389.5" y="295.99" font-size="8.40">0.46 – 0.49</text>
<rect x="369.4" y="301.5" width="16.8" height="8.2" fill="#8DBB9E"/>
<text x="389.5" y="308.52" font-size="8.40">0.49 – 0.51</text>
<rect x="369.4" y="314.0" width="16.8" height="8.2" fill="#B8D081"/>
<text x="389.5" y="321.05" font-size="8.40">0.51 – 0.53</text>
<rect x="369.4" y="326.5" width="16.8" height="8.2" fill="#E3E960"/>
<text x="389.5" y="333.58" font-size="8.40">0.53 – 0.55</text>
<rect x="369.4" y="339.0" width="16.8" height="8.2" fill="#FDE24D"/>
<text x="389.5" y="346.11" font-size="8.40">0.55 – 0.58</text>
<rect x="369.4" y="351.6" width="16.8" height="8.2" fill="#FDB03C"/>
<text x="389.5" y="358.64" font-size="8.40">0.58 – 0.63</text>
<rect x="369.4" y="364.1" width="16.8" height="8.2" fill="#FB8A2E"/>
<text x="389.5" y="371.17" font-size="8.40">0.63 – 0.69</text>
<rect x="369.4" y="376.6" width="16.8" height="8.2" fill="#F15A22"/>
<text x="389.5" y="383.70" font-size="8.40">0.69 – 0.77</text>
<rect x="369.4" y="389.2" width="16.8" height="8.2" fill="#E5131B"/>
<text x="389.5" y="396.23" font-size="8.40">0.77 – 0.88</text>
<text x="169.3" y="24.6" font-size="11.0" text-anchor="middle" stroke-width="0.3">(a)</text>
<text x="351.6" y="24.6" font-size="11.0" text-anchor="middle" stroke-width="0.3">(b)</text>
<text x="522.0" y="24.6" font-size="11.0" text-anchor="middle" stroke-width="0.6">(c)</text>
<text x="160.5" y="222.3" font-size="11.0" text-anchor="middle" stroke-width="0.3">(d)</text>
<text x="351.6" y="222.3" font-size="11.0" text-anchor="middle" stroke-width="0.3">(e)</text>
<text x="522.4" y="222.3" font-size="11.0" text-anchor="middle" stroke-width="0.3">(f)</text>

<rect x="4.6" y="6.3" width="540.3" height="421.9" fill="none" stroke="#484848" stroke-width="1.1"/>
<text x="16.7" y="15.4" font-size="7.6" font-weight="bold" text-anchor="middle" stroke="none">N</text>
<path d="M16.6 18L11.2 35.4L16.6 29.4Z" fill="#111" stroke="#111" stroke-width="0.5" stroke-linejoin="miter"/>
<path d="M16.6 18L21.8 35.4L16.6 29.4Z" fill="#fff" stroke="#111" stroke-width="0.6" stroke-linejoin="miter"/>
<path d="M117.4 413.3V406H136.1V413.3H154.8V406H173.5V413.3H192.2V406H267V413.3H341.8V406H416.4V413.3" fill="none" stroke="#222" stroke-width="0.9"/>
<g font-size="8.2" text-anchor="middle">
<text x="117.4" y="423.5">0</text><text x="154.8" y="423.5">150</text><text x="192.2" y="423.5">300</text><text x="267" y="423.5">600</text><text x="341.8" y="423.5">900</text><text x="416.4" y="423.5">1,200</text>
</g>
<text x="418.6" y="413.1" font-size="8.3">Meters</text>

</svg></body></html>
